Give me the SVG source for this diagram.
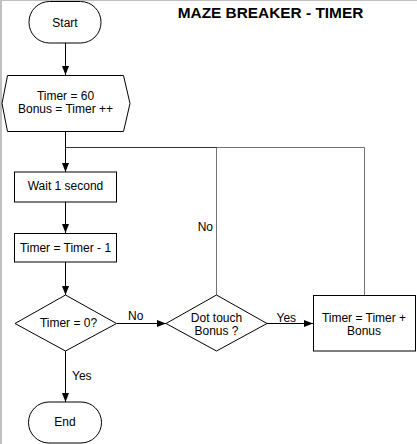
<svg xmlns="http://www.w3.org/2000/svg" width="417" height="444" viewBox="0 0 417 444">
<style>
.s{fill:#fff;stroke:#000;stroke-width:1}
.t{font-family:"Liberation Sans",Arial,sans-serif;font-size:12px;fill:#000;text-anchor:middle}
.l{font-family:"Liberation Sans",Arial,sans-serif;font-size:12px;fill:#000}
.c{fill:none;stroke:#000;stroke-width:1}
.r{fill:none;stroke:#000;stroke-opacity:0.55;stroke-width:1}
</style>
<defs>
<marker id="ah" markerUnits="userSpaceOnUse" markerWidth="10" markerHeight="8" refX="9" refY="3.5" orient="auto">
<path d="M0,0 L9,3.5 L0,7 z" fill="#000"/>
</marker>
</defs>
<rect x="0" y="0" width="417" height="444" fill="#fff"/>
<line x1="0" y1="0.5" x2="417" y2="0.5" stroke="#c0c0c0"/>
<line x1="1" y1="0" x2="1" y2="444" stroke="#c0c0c0" stroke-width="2"/>
<text x="270.5" y="18" font-family="'Liberation Sans',Arial,sans-serif" font-size="15.4px" font-weight="bold" text-anchor="middle">MAZE BREAKER - TIMER</text>
<g id="connectors">
<path class="c" d="M65.5,43 V75" marker-end="url(#ah)"/>
<path class="c" d="M65.5,132 V172" marker-end="url(#ah)"/>
<path class="c" d="M65.5,202 V233" marker-end="url(#ah)"/>
<path class="c" d="M65.5,262 V295" marker-end="url(#ah)"/>
<path class="c" d="M117,323.5 H166" marker-end="url(#ah)"/>
<path class="c" d="M267,323.5 H313" marker-end="url(#ah)"/>
<path class="c" d="M65.5,351 V402" marker-end="url(#ah)"/>
<path class="r" d="M216.5,295 V147.5 H65.5"/>
<path class="r" d="M364.5,295 V147.5 H65.5"/>
<text class="l" x="128" y="320">No</text>
<text class="l" x="276.5" y="321.5">Yes</text>
<text class="l" x="72" y="380">Yes</text>
<text class="l" x="213" y="231" text-anchor="end">No</text>
</g>
<g id="start">
<rect class="s" x="29" y="1.5" width="72" height="41.5" rx="20.5"/>
<text class="t" x="65" y="26.5">Start</text>
</g>
<g id="init">
<polygon class="s" points="7.5,75.5 123.5,75.5 130,103.5 123.5,131.5 7.5,131.5 2,103.5"/>
<text class="t" x="65.5" y="100">Timer = 60</text>
<text class="t" x="65.5" y="113.3">Bonus = Timer ++</text>
</g>
<g id="wait">
<rect class="s" x="14.5" y="172" width="102" height="30"/>
<text class="t" x="65.5" y="190">Wait 1 second</text>
</g>
<g id="dec">
<rect class="s" x="14.5" y="233.5" width="102" height="28.5"/>
<text class="t" x="65.5" y="251.5">Timer = Timer - 1</text>
</g>
<g id="zero">
<polygon class="s" points="65.5,295 116.5,323.5 65.5,351 15,323.5"/>
<text class="t" x="68.5" y="326.7">Timer = 0?</text>
</g>
<g id="dot">
<polygon class="s" points="216.5,295 267,323.5 216.5,351 166,323.5"/>
<text class="t" x="216.5" y="321.5">Dot touch</text>
<text class="t" x="216.5" y="335">Bonus ?</text>
</g>
<g id="bonus">
<rect class="s" x="313.5" y="295.5" width="102" height="55.5"/>
<text class="t" x="364" y="321.5">Timer = Timer +</text>
<text class="t" x="364" y="335">Bonus</text>
</g>
<g id="end">
<rect class="s" x="28.5" y="402" width="73" height="41" rx="20.5"/>
<text class="t" x="65" y="425.7">End</text>
</g>
</svg>
